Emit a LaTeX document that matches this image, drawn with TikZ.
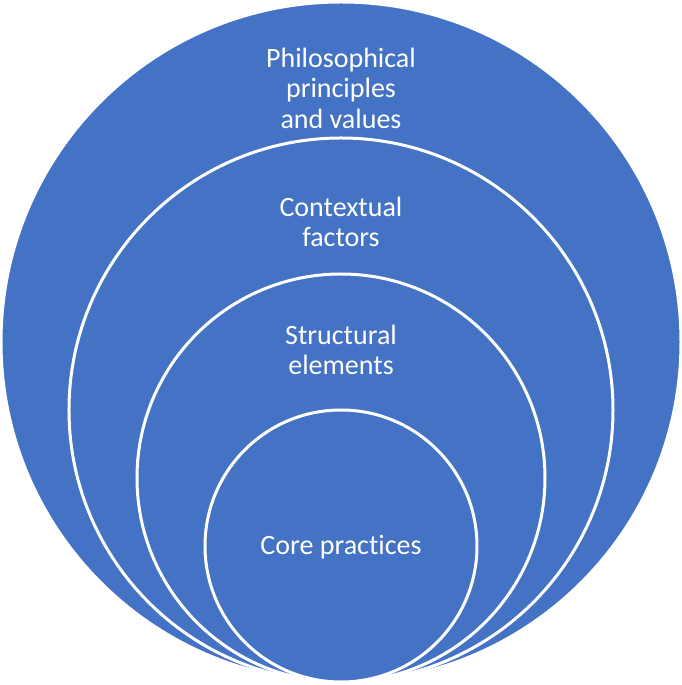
\documentclass[tikz,border=0pt]{standalone}
\usepackage{fontspec}
\setmainfont[Ligatures=NoCommon]{Carlito}
\definecolor{ringblue}{HTML}{4472C4}
\begin{document}
\begin{tikzpicture}[x=0.5pt,y=0.5pt,
    ring/.style={fill=ringblue,draw=white,line width=1.5pt},
    tag/.style={text=white,align=center,font=\fontsize{14}{15.25}\selectfont}]
  \useasboundingbox (-341,-3) rectangle (340,682);
  % nested rings, all touching at the bottom
  \foreach \r in {340,272,204,136}
    \draw[ring] (0,\r) circle (\r);

  \node[tag] (values) at (0,594) {Philosophical\\principles\\and values};
  \node[tag] (context) at (0,460) {Contextual\\factors};
  \node[tag] (struct) at (0,332) {Structural\\elements};
  \node[tag] (core) at (0,135) {Core practices};
\end{tikzpicture}
\end{document}
